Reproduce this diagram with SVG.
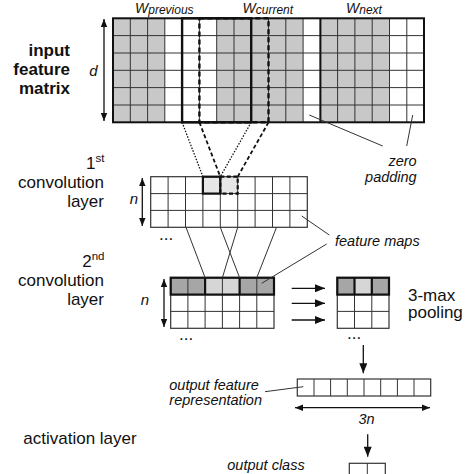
<svg xmlns="http://www.w3.org/2000/svg" width="474" height="474" viewBox="0 0 474 474">
<style>
text{font-family:"Liberation Sans",Arial,sans-serif;fill:#111}
.lbl{font-size:17px}
.bold{font-size:17px;font-weight:bold}
.it{font-size:14.5px;font-style:italic}
.w{font-size:14px;font-style:italic}
.sub{font-size:12px}
.grid{fill:none;stroke:#333;stroke-width:1}
.outer{fill:none;stroke:#111;stroke-width:2}
.thick{fill:none;stroke:#111;stroke-width:2.4}
.dash{fill:none;stroke:#111;stroke-width:2.4;stroke-dasharray:5 3}
.g1{fill:#c8c8c8}
.g2{fill:#e6e6e6}
.dk{fill:#a6a6a6}
.lt{fill:#d6d6d6}
.conn{fill:none;stroke:#333;stroke-width:1}
.dot{fill:none;stroke:#111;stroke-width:1.3;stroke-dasharray:1.5 1.5}
.cdash{fill:none;stroke:#111;stroke-width:1.8;stroke-dasharray:4 2.5}
.arr{fill:none;stroke:#111;stroke-width:1.3}
</style>
<defs>
<marker id="ah" viewBox="0 0 10 8" refX="10" refY="4" markerWidth="11" markerHeight="8" orient="auto-start-reverse" markerUnits="userSpaceOnUse"><path d="M0,0L10,4L0,8z" fill="#111"/></marker>
<marker id="as" viewBox="0 0 10 8" refX="10" refY="4" markerWidth="8" markerHeight="7" orient="auto-start-reverse" markerUnits="userSpaceOnUse"><path d="M0,0L10,4L0,8z" fill="#111"/></marker>
</defs>

<g id="window-labels">
<text class="w" x="135" y="13.2">W<tspan class="sub" dy="0.8">previous</tspan></text>
<text class="w" x="242.5" y="13.2">W<tspan class="sub" dy="0.8">current</tspan></text>
<text class="w" x="346" y="13.2">W<tspan class="sub" dy="0.8">next</tspan></text>
</g>

<g id="input-matrix">
<text class="bold" x="70" y="56" text-anchor="end">input</text>
<text class="bold" x="70" y="75" text-anchor="end">feature</text>
<text class="bold" x="70" y="94" text-anchor="end">matrix</text>
<rect class="g1" x="113" y="18.3" width="51.8" height="104"/>
<rect class="g1" x="216.7" y="18.3" width="86.4" height="104"/>
<rect class="g1" x="320.4" y="18.3" width="69.1" height="104"/>
<path class="grid" d="M130.3 18.3V122.3M147.6 18.3V122.3M164.8 18.3V122.3M182.1 18.3V122.3M199.4 18.3V122.3M216.7 18.3V122.3M234 18.3V122.3M251.2 18.3V122.3M268.5 18.3V122.3M285.8 18.3V122.3M303.1 18.3V122.3M320.4 18.3V122.3M337.6 18.3V122.3M354.9 18.3V122.3M372.2 18.3V122.3M389.5 18.3V122.3M406.8 18.3V122.3M113 35.6H424M113 53H424M113 70.3H424M113 87.6H424M113 105H424"/>
<rect class="outer" x="113" y="18.3" width="311" height="104"/>
<path class="outer" d="M320.4 18.3V122.3"/>
<rect class="dash" x="199.4" y="18.3" width="69.1" height="104"/>
<rect class="thick" x="182.1" y="18.3" width="69.1" height="104"/>
<line class="arr" x1="104" y1="19" x2="104" y2="121" marker-start="url(#as)" marker-end="url(#as)"/>
<text class="it" x="93.5" y="75.7" text-anchor="middle" style="font-size:15px">d</text>
</g>

<g id="zero-padding">
<text class="it" x="416.7" y="166" text-anchor="end">zero</text>
<text class="it" x="416.7" y="181.5" text-anchor="end">padding</text>
</g>

<g id="conv1">
<text class="lbl" x="104.5" y="169" text-anchor="end">1<tspan dy="-7" font-size="11.5">st</tspan></text>
<text class="lbl" x="104" y="188" text-anchor="end">convolution</text>
<text class="lbl" x="104" y="207" text-anchor="end">layer</text>
<rect class="g2" x="202.9" y="176.7" width="34.8" height="16.9"/>
<path class="grid" d="M168.1 176.7V227.3M185.5 176.7V227.3M202.9 176.7V227.3M220.3 176.7V227.3M237.7 176.7V227.3M255.1 176.7V227.3M272.5 176.7V227.3M289.9 176.7V227.3M150.7 193.6H307.3M150.7 210.4H307.3"/>
<rect class="grid" x="150.7" y="176.7" width="156.6" height="50.6" style="stroke-width:1.2"/>
<rect class="dash" x="220.3" y="176.7" width="17.4" height="16.9" style="stroke-width:2.2;stroke-dasharray:4 2.5"/>
<rect class="thick" x="202.9" y="176.7" width="17.4" height="16.9" style="stroke-width:2.2"/>
<line class="arr" x1="142.3" y1="178" x2="142.3" y2="226" marker-start="url(#as)" marker-end="url(#as)"/>
<text class="it" x="134" y="204" text-anchor="middle" style="font-size:15px">n</text>
<text class="lbl" x="159" y="239.5">...</text>
</g>

<g id="feature-maps-label">
<text class="it" x="335" y="245.5">feature maps</text>
</g>

<g id="conv2">
<text class="lbl" x="104.5" y="267" text-anchor="end">2<tspan dy="-7" font-size="11.5">nd</tspan></text>
<text class="lbl" x="104" y="286" text-anchor="end">convolution</text>
<text class="lbl" x="104" y="305" text-anchor="end">layer</text>
<rect class="dk" x="170.7" y="277.7" width="34.4" height="16.9"/>
<rect class="lt" x="205.1" y="277.7" width="34.5" height="16.9"/>
<rect class="dk" x="239.6" y="277.7" width="34.4" height="16.9"/>
<path class="grid" d="M187.9 277.7V328.3M205.1 277.7V328.3M222.4 277.7V328.3M239.6 277.7V328.3M256.8 277.7V328.3M170.7 294.6H274M170.7 311.4H274"/>
<rect class="grid" x="170.7" y="277.7" width="103.3" height="50.6" style="stroke-width:1.2"/>
<rect class="thick" x="170.7" y="277.7" width="103.3" height="16.9" style="stroke-width:2.2"/>
<path class="thick" d="M205.1 277.7V294.6M239.6 277.7V294.6" style="stroke-width:2.2"/>
<line class="arr" x1="164" y1="279" x2="164" y2="327" marker-start="url(#as)" marker-end="url(#as)"/>
<text class="it" x="145" y="305" text-anchor="middle" style="font-size:15px">n</text>
<text class="lbl" x="179" y="340">...</text>
</g>

<g id="pooling">
<rect class="dk" x="337.3" y="277.7" width="17.2" height="16.9"/>
<rect class="lt" x="354.5" y="277.7" width="17.3" height="16.9"/>
<rect class="dk" x="371.8" y="277.7" width="17.2" height="16.9"/>
<path class="grid" d="M354.5 277.7V328.3M371.8 277.7V328.3M337.3 294.6H389M337.3 311.4H389"/>
<rect class="grid" x="337.3" y="277.7" width="51.7" height="50.6" style="stroke-width:1.2"/>
<rect class="thick" x="337.3" y="277.7" width="51.7" height="16.9" style="stroke-width:2.2"/>
<path class="thick" d="M354.5 277.7V294.6M371.8 277.7V294.6" style="stroke-width:2.2"/>
<text class="lbl" x="347" y="338.5">...</text>
<text class="lbl" x="408" y="300.5">3-max</text>
<text class="lbl" x="408" y="318">pooling</text>
</g>

<g id="output-feature">
<rect x="297.3" y="379" width="133.4" height="17" fill="#fff"/>
<path class="grid" d="M314 379V396M330.6 379V396M347.3 379V396M364 379V396M380.7 379V396M397.4 379V396M414 379V396"/>
<rect class="grid" x="297.3" y="379" width="133.4" height="17" style="stroke-width:1.2"/>
<text class="it" x="169.3" y="389.5">output feature</text>
<text class="it" x="169.3" y="405">representation</text>
<line class="arr" x1="295" y1="407.7" x2="430" y2="407.7" marker-start="url(#as)" marker-end="url(#as)"/>
<text class="it" x="366.5" y="423.5" text-anchor="middle">3n</text>
</g>

<g id="activation">
<text class="lbl" x="23.3" y="444.3">activation layer</text>
</g>

<g id="output-class">
<path class="grid" d="M367.3 463.3V480"/>
<rect class="grid" x="349.3" y="463.3" width="36" height="20" style="stroke-width:1.2"/>
<text class="it" x="227.3" y="470">output class</text>
</g>

<g id="connectors">
<line class="dot" x1="182.1" y1="122.3" x2="202.9" y2="176.7"/>
<line class="dot" x1="251.2" y1="122.3" x2="220.3" y2="176.7"/>
<line class="cdash" x1="199.4" y1="122.3" x2="220.3" y2="176.7"/>
<line class="cdash" x1="268.5" y1="122.3" x2="237.7" y2="176.7"/>
<line class="conn" x1="309.3" y1="115" x2="382.7" y2="146"/>
<line class="conn" x1="412.7" y1="115" x2="406.7" y2="146"/>
<line class="conn" x1="186" y1="227.3" x2="205.1" y2="277.7"/>
<line class="conn" x1="220.3" y1="227.3" x2="239.6" y2="277.7"/>
<line class="conn" x1="237.7" y1="227.3" x2="222.4" y2="277.7"/>
<line class="conn" x1="276.5" y1="227.3" x2="256.8" y2="277.7"/>
<line class="conn" x1="301.7" y1="216" x2="329.3" y2="235"/>
<line class="conn" x1="326.7" y1="244" x2="261.7" y2="283.3"/>
<line class="arr" x1="291.7" y1="288.3" x2="325" y2="288.3" marker-end="url(#ah)"/>
<line class="arr" x1="291.7" y1="303.3" x2="325" y2="303.3" marker-end="url(#ah)"/>
<line class="arr" x1="291.7" y1="320" x2="325" y2="320" marker-end="url(#ah)"/>
<line class="arr" x1="363.3" y1="345" x2="363.3" y2="373.3" marker-end="url(#ah)"/>
<line class="conn" x1="265" y1="391.7" x2="303.3" y2="386.7"/>
<line class="arr" x1="367.7" y1="434.3" x2="367.7" y2="456.7" marker-end="url(#ah)"/>
</g>
</svg>
